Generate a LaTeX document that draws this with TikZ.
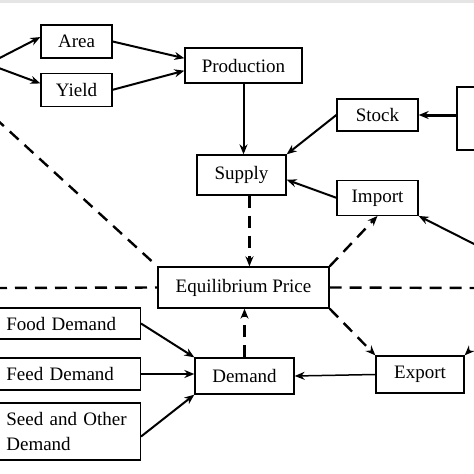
\documentclass[tikz,border=0pt]{standalone}
\usepackage{fontspec}
\setmainfont{Liberation Serif}
\usetikzlibrary{arrows.meta,%
                positioning}

\begin{document}
\begin{tikzpicture}[x = 1pt, y = -1pt, >={Stealth[length=10pt, width=8pt]}]
  \tikzstyle{every node} = [font = \fontsize{19}{25}\selectfont]
  \tikzstyle{BoxStyle} = [draw, line width = 1.3pt, inner sep = 0pt]
  \tikzstyle{SideStyle} = [BoxStyle, anchor = east, minimum width = 143pt,
                           text width = 125pt, inner xsep = 5pt, align = left]
  \tikzstyle{EdgeStyle} = [line width = 2pt, ->]
  \tikzstyle{PriceStyle} = [line width = 2.4pt, dash pattern = on 12pt off 8pt]
\useasboundingbox (0,0) rectangle (474,474);
\clip (0,0) rectangle (474,474);
\fill[gray!20] (0,0) rectangle (474,2.5);

% supply side
\node[BoxStyle, minimum width = 71pt, minimum height = 33pt] (area) at (76.5,41.5) {Area};
\node[BoxStyle, minimum width = 71pt, minimum height = 33pt, below = 14pt of area] (yield) {Yield};
\node[BoxStyle, minimum width = 117pt, minimum height = 35pt] (prod) at (243.5,65.5) {Production};
\node[BoxStyle, minimum width = 81pt, minimum height = 32pt] (stock) at (377.5,115) {Stock};
\node[BoxStyle, minimum width = 90pt, minimum height = 63pt] (begin) at (502,118.5) {};
\node[BoxStyle, minimum width = 81pt, minimum height = 35pt, below = 48pt of stock] (import) {Import};
\node[BoxStyle, minimum width = 89pt, minimum height = 40pt] (supply) at (241.5,175) {Supply};

% price
\node[BoxStyle, minimum width = 171pt, minimum height = 41pt] (price) at (243.5,287.5) {Equilibrium Price};

% demand side
\node[SideStyle, minimum height = 31pt] (food) at (141,323.5) {Food Demand};
\node[SideStyle, minimum height = 32pt] (feed) at (141,374) {Feed Demand};
\node[SideStyle, minimum height = 57pt] (seed) at (141,431.5) {Seed and Other\\Demand};
\node[BoxStyle, minimum width = 99pt, minimum height = 36pt] (demand) at (244.5,376) {Demand};
\node[BoxStyle, minimum width = 88pt, minimum height = 37pt] (export) at (420,374.5) {Export};

% loose ends
\coordinate (lin) at (-12,64);
\coordinate (rin) at (482,248);
\coordinate (ldiag) at (-5,118);
\coordinate (lh) at (-5,288);
\coordinate (rh) at (480,288);
\coordinate (rexp) at (484,336);

\draw[EdgeStyle] (lin) -- (area.173);
\draw[EdgeStyle] (lin) -- (yield.170);
\draw[EdgeStyle] (area.east) -- (prod.173);
\draw[EdgeStyle] (yield.east) -- (prod.185);
\draw[EdgeStyle] (prod.south) -- (prod.south |- supply.north);
\draw[EdgeStyle] (stock.west) -- (supply.north east);
\draw[EdgeStyle] (import.west) -- (supply.-6);
\draw[EdgeStyle, line width = 3pt] (begin.west |- stock.east) -- (stock.east);
\draw[EdgeStyle] (rin) -- (import.south east);

\draw[PriceStyle, ->] (supply.-69) -- (supply.-69 |- price.north);
\draw[PriceStyle, ->] (price.north east) -- (import.south);
\draw[PriceStyle] (ldiag) -- (price.north west);
\draw[PriceStyle] (lh) -- (price.west);
\draw[PriceStyle] (price.east) -- (rh);
\draw[PriceStyle, ->] (price.south east) -- (export.north west);
\draw[PriceStyle, ->] (rexp) -- (export.north east);
\draw[PriceStyle, ->] (demand.north) -- (demand.north |- price.south);

\draw[EdgeStyle, line width = 1.5pt] (export.west) -- (demand.east);
\draw[EdgeStyle] (food.east) -- (demand.north west);
\draw[EdgeStyle] (feed.east) -- (feed.east -| demand.west);
\draw[EdgeStyle] (seed.-4) -- (demand.south west);

\end{tikzpicture}
\end{document}
